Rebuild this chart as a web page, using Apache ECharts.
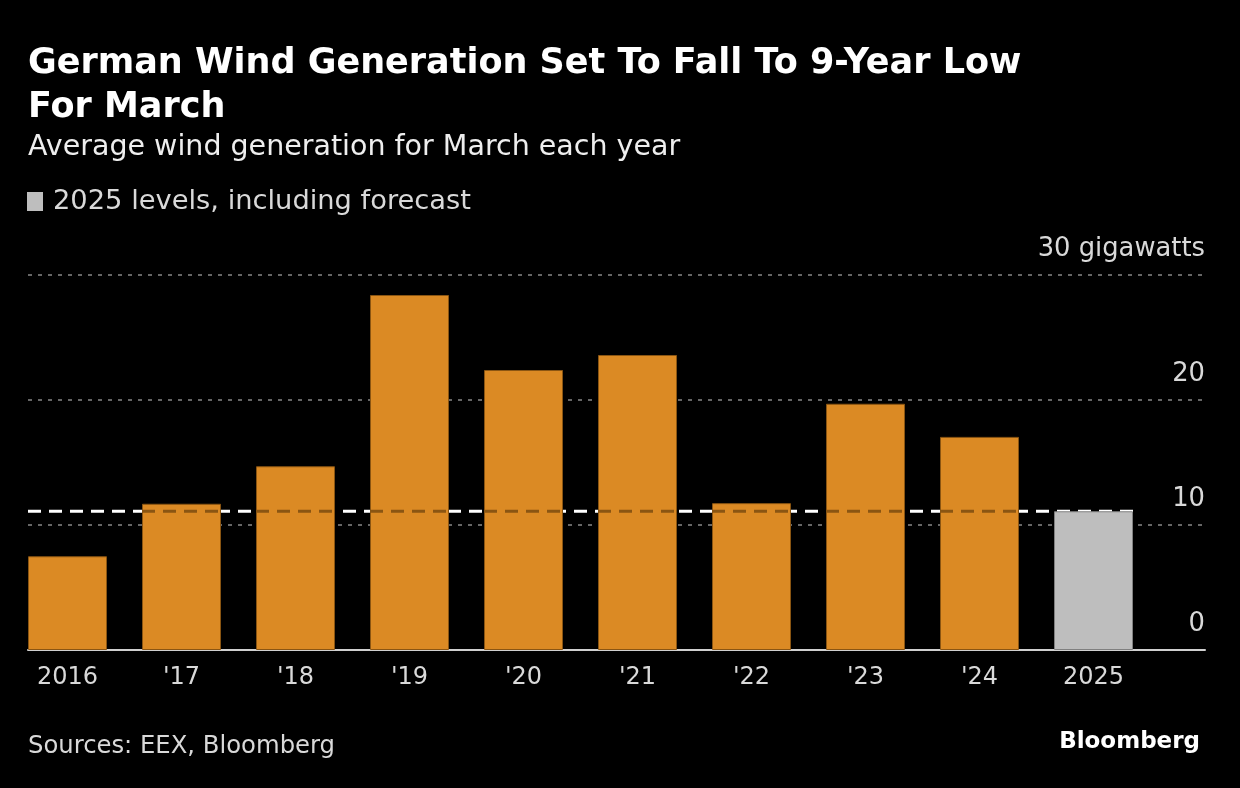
<!DOCTYPE html>
<html><head><meta charset="utf-8">
<script src="https://cdn.jsdelivr.net/npm/echarts@6/dist/echarts.min.js"></script>
<style>html,body{margin:0;padding:0;background:#000;}#c{width:1240px;height:788px;}</style>
</head><body><div id="c"></div>
<script>
const categories = ['2016', "'17", "'18", "'19", "'20", "'21", "'22", "'23", "'24", '2025'];
const pastValues = [7.5, 11.7, 14.7, 28.4, 22.4, 23.6, 11.75, 19.7, 17.05, null];
const forecastValues = [null, null, null, null, null, null, null, null, null, 11.1];
const level2025 = 11.1;

const FONT = '"DejaVu Sans", sans-serif';
const BAR_W = 79;
const chart = echarts.init(document.getElementById('c'));
chart.setOption({
  backgroundColor: '#000',
  animation: false,
  legend: {
    left: 27, top: 188, padding: 0, icon: 'rect', itemWidth: 16, itemHeight: 19, itemGap: 12,
    itemStyle: { borderWidth: 0 },
    data: ['2025 levels, including forecast'],
    textStyle: { color: '#d9d9d9', fontSize: 27.3, fontFamily: FONT, padding: [0, 0, 0, 5] }
  },
  grid: [
    { left: 10.5, right: 89.5, top: 275, bottom: 138 },
    { left: 28, right: 35, top: 275, bottom: 138 }
  ],
  xAxis: [
    { type: 'category', gridIndex: 0, data: categories,
      axisLine: { show: false }, axisTick: { show: false },
      axisLabel: { color: '#d9d9d9', fontSize: 24, fontFamily: FONT, margin: 16 } },
    { type: 'value', gridIndex: 1, min: 0, max: 1, show: true,
      axisLine: { show: true, lineStyle: { color: '#d0d0d0', width: 2 } },
      axisTick: { show: false }, axisLabel: { show: false }, splitLine: { show: false } }
  ],
  yAxis: [
    { type: 'value', gridIndex: 0, min: 0, max: 30, interval: 10, show: false },
    { type: 'value', gridIndex: 1, min: 0, max: 30, interval: 10, position: 'right',
      axisLine: { show: false }, axisTick: { show: false },
      splitLine: { show: true, lineStyle: { color: '#666', type: [4, 6], width: 2 } },
      axisLabel: { inside: true, margin: 0, verticalAlign: 'bottom', padding: [0, 0, 13, 0],
        color: '#d9d9d9', fontSize: 25.8, fontFamily: FONT,
        formatter: v => v === 30 ? '30 gigawatts' : String(v) } }
  ],
  series: [
    { type: 'custom', xAxisIndex: 0, yAxisIndex: 0, z: 2, silent: true,
      data: [[0, level2025]],
      renderItem: (params, api) => {
        const a = api.coord([0, level2025]);
        const b = api.coord([categories.length - 1, level2025]);
        return { type: 'line',
          shape: { x1: a[0] - BAR_W / 2, y1: a[1], x2: b[0] + BAR_W / 2, y2: b[1] },
          style: { stroke: '#fff', lineWidth: 3, lineDash: [13, 8] } };
      } },
    { type: 'bar', name: 'orange', xAxisIndex: 0, yAxisIndex: 0, stack: 's', barWidth: BAR_W, z: 3,
      data: pastValues,
      itemStyle: { color: '#db8a24', borderColor: '#8a5512', borderWidth: 1 } },
    { type: 'bar', name: '2025 levels, including forecast', xAxisIndex: 0, yAxisIndex: 0, stack: 's', barWidth: BAR_W, z: 3,
      data: forecastValues,
      itemStyle: { color: '#bebebe', borderColor: '#808080', borderWidth: 1 } },
    { type: 'custom', xAxisIndex: 0, yAxisIndex: 0, z: 5, silent: true,
      data: pastValues.map((v, i) => [i, v]),
      renderItem: (params, api) => {
        const v = api.value(1);
        if (!(v > level2025)) return null;
        const c = api.coord([api.value(0), level2025]);
        const half = BAR_W / 2;
        return { type: 'line',
          shape: { x1: c[0] - half, y1: c[1], x2: c[0] + half, y2: c[1] },
          style: { stroke: '#8a5512', lineWidth: 3, lineDash: [13, 8] } };
      } }
  ],
  graphic: [
    { type: 'text', left: 28, top: 42, style: { text: 'German Wind Generation Set To Fall To 9-Year Low\nFor March',
      fill: '#fff', font: 'bold 35px ' + FONT, lineHeight: 44 } },
    { type: 'text', left: 28, top: 133, style: { text: 'Average wind generation for March each year',
      fill: '#eee', font: '28.5px ' + FONT } },
    { type: 'text', left: 28, top: 735, style: { text: 'Sources: EEX, Bloomberg',
      fill: '#d9d9d9', font: '24.3px ' + FONT } },
    { type: 'text', right: 40, top: 731, style: { text: 'Bloomberg',
      fill: '#fff', font: 'bold 23px ' + FONT } }
  ]
});
</script></body></html>
